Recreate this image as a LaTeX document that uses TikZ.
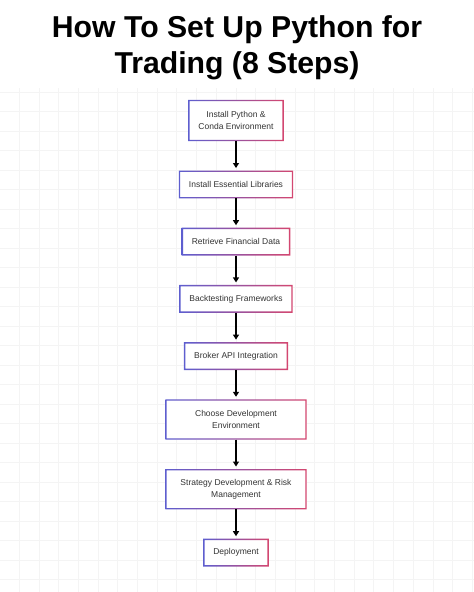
\documentclass[tikz,border=0pt]{standalone}
\usepackage{fontspec}
\setmainfont{Liberation Sans}
\usetikzlibrary{positioning,arrows.meta}

\definecolor{edgeblue}{HTML}{5E5ECF}
\definecolor{edgepink}{HTML}{D44770}
\definecolor{gridgray}{HTML}{F4F4F4}
\definecolor{labelgray}{HTML}{333333}

\tikzset{
  stepbox/.style={fill=white, inner xsep=10pt, inner ysep=0pt, minimum height=27.5pt,
    align=center, font=\fontsize{8.5}{12}\selectfont, text=labelgray},
  flow/.style={-{Triangle[length=5pt,width=6pt]}, line width=1.4pt, shorten >=2.5pt},
  gridline/.style={gridgray, line width=0.7pt}
}

\begin{document}
\begin{tikzpicture}[x=1pt,y=-1pt]
\useasboundingbox (0,0) rectangle (474,592);
% background grid
\foreach \i in {1,...,24}
  \draw[gridline] (\i*19.7-0.5,88) -- (\i*19.7-0.5,592);
\foreach \j in {0,...,25}
  \draw[gridline] (0,92+\j*19.5) -- (474,92+\j*19.5);
% title
\node[font=\bfseries\fontsize{30.2}{36}\selectfont, align=center, inner sep=0pt, anchor=north] (title) at (237,15)
  {How To Set Up Python for\\Trading (8 Steps)};
% steps
\node[stepbox, minimum height=41pt] (s1) at (236,120.5) {Install Python \&\\Conda Environment};
\node[stepbox, below=29.3pt of s1] (s2) {Install Essential Libraries};
\node[stepbox, below=29.3pt of s2] (s3) {Retrieve Financial Data};
\node[stepbox, below=29.3pt of s3] (s4) {Backtesting Frameworks};
\node[stepbox, below=29.3pt of s4] (s5) {Broker API Integration};
\node[stepbox, minimum height=40pt, minimum width=141pt, below=29.3pt of s5] (s6) {Choose Development\\Environment};
\node[stepbox, minimum height=40pt, minimum width=141pt, below=29.3pt of s6] (s7) {Strategy Development \& Risk\\Management};
\node[stepbox, below=29.3pt of s7] (s8) {Deployment};
% gradient borders
\foreach \n in {s1,s2,s3,s4,s5,s6,s7,s8}
  \shade[left color=edgeblue, right color=edgepink, even odd rule]
    (\n.south west) rectangle (\n.north east)
    ([shift={(1.4pt,1.4pt)}]\n.south west) rectangle ([shift={(-1.4pt,-1.4pt)}]\n.north east);
% arrows
\foreach \a/\b in {s1/s2,s2/s3,s3/s4,s4/s5,s5/s6,s6/s7,s7/s8}
  \draw[flow] (\a) -- (\b);
\end{tikzpicture}
\end{document}
